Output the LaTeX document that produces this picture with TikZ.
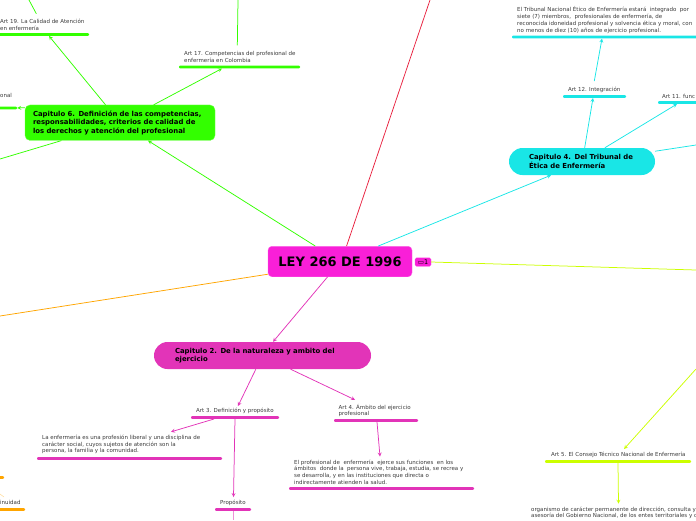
\documentclass[tikz,border=0pt]{standalone}
\usepackage{fontspec}
\setmainfont{DejaVu Sans}
\definecolor{leypink}{HTML}{F91FD8}
\definecolor{cappink}{HTML}{E234B8}
\definecolor{capgreen}{HTML}{33FF00}
\definecolor{capcyan}{HTML}{19E6E6}
\definecolor{capyellow}{HTML}{CCFF00}
\definecolor{caporange}{HTML}{FFA500}
\definecolor{capred}{HTML}{E8213F}
\definecolor{arttext}{HTML}{3A3A3A}
\tikzset{
  capnode/.style={rectangle,font=\fontsize{6.9}{8.6}\selectfont\bfseries,align=left,text=black,inner ysep=0pt,minimum height=27pt},
  arttxt/.style={anchor=west,font=\fontsize{5.5}{6.7}\selectfont,align=left,text=arttext,inner sep=0pt},
  barnode/.style={rectangle,rounded corners=1pt,inner sep=0pt,minimum height=2.6pt},
  link/.style={line width=0.75pt,-stealth},
  plainlink/.style={line width=0.75pt}
}
\begin{document}
\begin{tikzpicture}[x={(1pt,0)},y={(0,-1pt)}]
  \useasboundingbox (0,0) rectangle (696,520);
  \clip (0,0) rectangle (696,520);
  % centre
  \node[rectangle,rounded corners=4pt,fill=leypink,draw=leypink!70!white,line width=0.4pt,minimum width=144pt,minimum height=30.5pt,inner sep=0pt,font=\fontsize{13}{15}\selectfont\bfseries] (ley) at (340,261.5) {LEY 266 DE 1996};
  \node[rectangle,rounded corners=1.5pt,fill=leypink,draw=leypink!70!white,line width=0.3pt,minimum width=16pt,minimum height=8.5pt,inner sep=0pt,font=\fontsize{6.5}{7}\selectfont] (badge) at (423,262) {▭1};
  % chapters
  \node[capnode,rounded corners=5pt,fill=capgreen,draw=capgreen!70!white,line width=0.3pt,inner xsep=8pt,text width=174pt,minimum height=35.5pt] (cap6) at (120,122.7) {\raisebox{-0.8pt}{Capitulo 6. Definición de las competencias,}\\\raisebox{-0.8pt}{responsabilidades, criterios de calidad de}\\\raisebox{-0.8pt}{los derechos y atención del profesional}};
  \node[capnode,rounded corners=13.5pt,fill=capcyan,inner xsep=20pt,text width=106pt] (cap4) at (582,161.5) {\raisebox{-0.8pt}{Capitulo 4. Del Tribunal de}\\\raisebox{-0.8pt}{Ética de Enfermería}};
  \node[capnode,rounded corners=13.5pt,fill=cappink,inner xsep=21pt,text width=175pt] (cap2) at (262.5,355.5) {Capitulo 2. De la naturaleza y ambito del\\ejercicio};
  % green side
  \node[arttxt] (art19) at (0,24.5) {Art 19. La Calidad de Atención\\en enfermería};
  \node[barnode,fill=capgreen,minimum width=94pt] (art19bar) at (42,34.5) {};
  \node[arttxt] (art17) at (184,57) {Art 17. Competencias del profesional de\\enfermería en Colombia};
  \node[barnode,fill=capgreen,minimum width=121pt] (art17bar) at (239.5,67) {};
  \node[arttxt] (art18) at (0,95) {onal};
  \node[barnode,fill=capgreen,minimum width=22pt] (art18bar) at (6,108) {};
  \coordinate (g1) at (29,0);
  \coordinate (g2) at (238,0);
  \coordinate (g3) at (0,159);
  \draw[plainlink,capgreen] (g1) -- ([xshift=-6pt,yshift=5pt]art19.north);
  \draw[plainlink,capgreen] (g2) -- ([xshift=-2.5pt,yshift=6pt]art17.north);
  \draw[link,capgreen] (ley.148) -- ([xshift=28pt]cap6.south);
  \draw[link,capgreen] (cap6.129) -- ([xshift=7pt]art19bar.south);
  \draw[link,capgreen] (cap6.28) -- ([xshift=-17.5pt]art17bar.south);
  \draw[link,capgreen] (cap6.171) -- (art18bar.east);
  \draw[plainlink,capgreen] (cap6.197) -- (g3);
  % cyan side
  \node[arttxt] (trib) at (517,20) {El Tribunal Nacional Ético de Enfermería estará~ integrado~ por\\siete (7) miembros,~ profesionales de enfermería, de\\reconocida idoneidad profesional y solvencia ética y moral, con\\no menos de diez (10) años de ejercicio profesional.};
  \node[barnode,fill=capcyan,minimum width=208pt] (tribbar) at (616,37) {};
  \node[arttxt] (art12) at (568,90) {Art 12. Integración};
  \node[barnode,fill=capcyan,minimum width=63pt] (art12bar) at (594.5,96.5) {};
  \node[arttxt] (art11) at (662,96) {Art 11. func};
  \node[barnode,fill=capcyan,minimum width=60pt] (art11bar) at (688,102.5) {};
  \coordinate (c1) at (696,145);
  \draw[link,capcyan] (ley.22) -- ([xshift=-31pt]cap4.south);
  \draw[link,capcyan] (cap4.79) -- ([xshift=-1.5pt]art12bar.south);
  \draw[link,capcyan] (cap4.31) -- ([xshift=-11pt]art11bar.south);
  \draw[plainlink,capcyan] (cap4.8) -- (c1);
  \draw[link,capcyan] ([yshift=6pt]art12.north) -- ([xshift=-14pt]tribbar.south);
  % red, orange
  \coordinate (r1) at (430,0);
  \coordinate (o1) at (0,316);
  \draw[plainlink,capred] (ley.67) -- (r1);
  \draw[plainlink,caporange] (ley.190) -- (o1);
  \node[barnode,fill=caporange,minimum width=9pt] (org1bar) at (-0.5,477.5) {};
  \node[arttxt] (org2) at (0,502) {inuidad};
  \node[barnode,fill=caporange,minimum width=30pt] (org2bar) at (10,509.5) {};
  \coordinate (o2) at (0,494);
  \coordinate (o3) at (4,497);
  \draw[line width=0.4pt,caporange!50!white] (o2) -- (o3);
  % pink side
  \node[arttxt] (art3) at (196,411) {Art 3. Definición y propósito};
  \node[barnode,fill=cappink,minimum width=88pt] (art3bar) at (235,417.5) {};
  \node[arttxt] (art4) at (338.5,410.5) {Art 4. Ámbito del ejercicio\\profesional};
  \node[barnode,fill=cappink,minimum width=84pt] (art4bar) at (376,420.5) {};
  \node[arttxt] (enf) at (42,444.5) {La enfermería es una profesión liberal y una disciplina de\\carácter social, cuyos sujetos de atención son la\\persona, la familia y la comunidad.};
  \node[barnode,fill=cappink,minimum width=185pt] (enfbar) at (129.5,458.5) {};
  \node[arttxt] (prop) at (220,503) {Propósito};
  \node[barnode,fill=cappink,minimum width=36pt] (propbar) at (233,509.5) {};
  \node[arttxt] (amb) at (294,472) {El profesional de~ enfermería~ ejerce sus funciones~ en los\\ámbitos~ donde la~ persona vive, trabaja, estudia, se recrea y\\se desarrolla, y en las instituciones que directa o\\indirectamente atienden la salud.};
  \node[barnode,fill=cappink,minimum width=185pt] (ambbar) at (381.5,488.5) {};
  \coordinate (p1) at (233,520);
  \draw[link,cappink] (ley.-129) -- ([xshift=10.5pt]cap2.north);
  \draw[link,cappink] (cap2.-116) -- ([xshift=42pt,yshift=2pt]art3.north west);
  \draw[link,cappink] (cap2.-26) -- ([xshift=16.5pt,yshift=4pt]art4.north west);
  \draw[link,cappink] ([xshift=-21pt]art3bar.south) -- ([xshift=129pt,yshift=3pt]enf.north west);
  \draw[link,cappink] (art3bar.south) -- ([xshift=13.5pt,yshift=3pt]prop.north west);
  \draw[plainlink,cappink!55!white,line width=1pt] (propbar.south) -- (p1);
  \draw[link,cappink] ([xshift=1pt]art4bar.south) -- ([xshift=86pt,yshift=3pt]amb.north west);
  % yellow side
  \node[arttxt] (art5) at (551,455) {Art 5. El Consejo Técnico Nacional de Enfermería};
  \node[barnode,fill=capyellow,minimum width=146pt] (art5bar) at (618,461.5) {};
  \node[arttxt] (cons) at (531,513) {organismo de carácter permanente de dirección, consulta y\\asesoría del Gobierno Nacional, de los entes territoriales y d};
  \coordinate (y1) at (696,270);
  \coordinate (y2) at (696,369);
  \draw[plainlink,capyellow] (badge.east) -- (y1);
  \draw[link,capyellow] (y2) -- ([xshift=73pt,yshift=3pt]art5.north west);
  \draw[link,capyellow] (art5bar.south) -- ([xshift=87.5pt,yshift=3pt]cons.north west);
\end{tikzpicture}
\end{document}
